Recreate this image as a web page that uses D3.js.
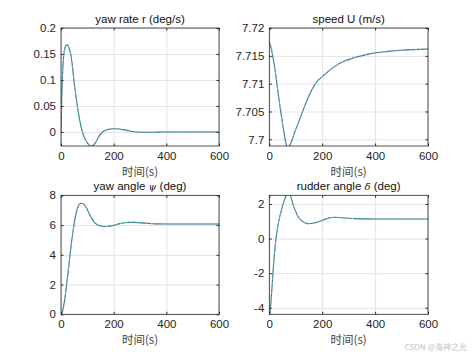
<!DOCTYPE html>
<html><head><meta charset="utf-8">
<script src="https://cdn.jsdelivr.net/npm/d3@7"></script>
<style>html,body{margin:0;padding:0;background:#fff;}svg{display:block;font-family:"Liberation Sans",Arial,sans-serif;}</style>
</head><body>
<script>
// ---- data ----
const rT = [0,3,6,10,15,20,25,30,37,43,49,55,62,70,78,84,92,100,108,115,122,130,138,146,155,162,170,180,190,200,210,220,235,250,265,280,300,330,370,420,600];
const rV = [0,0.07,0.115,0.145,0.162,0.167,0.167,0.162,0.150,0.128,0.100,0.076,0.050,0.025,0.006,-0.004,-0.014,-0.021,-0.026,-0.0275,-0.026,-0.021,-0.014,-0.007,-0.001,0.0015,0.0035,0.005,0.0058,0.0062,0.0062,0.0058,0.0045,0.003,0.0014,0.0003,-0.0005,-0.0006,-0.0003,0,0];
const uT = [0,5,20,36,53,62,70,78,86,97,110,122,135,147,163,179,204,225,248,286,324,382,450,500,600];
const uV = [7.7174,7.7168,7.7130,7.7074,7.7020,7.6995,7.6985,7.6990,7.6999,7.7014,7.7030,7.7045,7.7061,7.7075,7.7091,7.7103,7.7114,7.7123,7.7131,7.7141,7.7147,7.7154,7.7158,7.7160,7.7162];
const pT = [0,5,10,15,20,25,30,35,40,45,50,55,60,65,70,78,85,95,105,115,125,135,148,165,180,200,220,240,260,280,300,330,360,400,600];
const pV = [0,0.15,0.55,1.1,1.8,2.55,3.3,4.1,4.85,5.5,6.1,6.6,6.98,7.25,7.4,7.47,7.42,7.2,6.85,6.5,6.22,6.05,5.95,5.9,5.92,5.98,6.08,6.15,6.18,6.18,6.15,6.11,6.08,6.07,6.07];
const dT = [0,2.6,9,17.8,25.3,34,44,56.7,63,70,78,90.8,109.6,128.5,147.4,166,191.7,217,248,286,324,400,600];
const dV = [-4.38,-4.27,-3.1,-1.17,0,0.86,1.54,2.21,2.45,2.58,2.52,1.92,1.25,0.96,0.86,0.88,1.0,1.15,1.23,1.19,1.15,1.13,1.13];
const xTicks = [0,200,400,600];
const rTicks = [0,0.05,0.1,0.15,0.2];
const uTicks = [7.7,7.705,7.71,7.715,7.72];
const pTicks = [0,2,4,6,8];
const dTicks = [-4,-2,0,2];
const xLabel = "时间(s)";

const W=474,H=355;
const svg=d3.select("body").append("svg").attr("width",W).attr("height",H);

const panels=[
 {x0:61,x1:219,y0:28,y1:146,dom:[-0.027,0.2],T:rT,V:rV,ticks:rTicks,fmt:d=>String(d),title:[["yaw rate r (deg/s)",false]]},
 {x0:269.3,x1:428,y0:28,y1:146,dom:[7.6988,7.72],T:uT,V:uV,ticks:uTicks,fmt:d=>String(+d.toFixed(3)),title:[["speed U (m/s)",false]]},
 {x0:61,x1:219,y0:195.3,y1:314.3,dom:[0,8],T:pT,V:pV,ticks:pTicks,fmt:d=>String(d),title:[["yaw angle ",false],["ψ",true],[" (deg)",false]]},
 {x0:269.3,x1:428,y0:195.3,y1:314.3,dom:[-4.38,2.5],T:dT,V:dV,ticks:dTicks,fmt:d=>String(d),title:[["rudder angle ",false],["δ",true],[" (deg)",false]]}
];

panels.forEach((p,i)=>{
  const x=d3.scaleLinear().domain([0,600]).range([p.x0,p.x1]);
  const y=d3.scaleLinear().domain(p.dom).range([p.y1,p.y0]);
  const g=svg.append("g");
  const cid="clip"+i;
  svg.append("clipPath").attr("id",cid).append("rect")
    .attr("x",p.x0).attr("y",p.y0).attr("width",p.x1-p.x0).attr("height",p.y1-p.y0);
  g.append("rect").attr("x",p.x0).attr("y",p.y0).attr("width",p.x1-p.x0).attr("height",p.y1-p.y0).attr("fill","#fff");
  // grid
  g.append("g").call(d3.axisBottom(x).tickValues(xTicks).tickSize(-(p.y1-p.y0)).tickFormat(""))
    .attr("transform",`translate(0,${p.y1})`).call(s=>{s.select(".domain").remove();s.selectAll("line").attr("stroke","#e3e3e3");});
  g.append("g").call(d3.axisLeft(y).tickValues(p.ticks).tickSize(-(p.x1-p.x0)).tickFormat(""))
    .attr("transform",`translate(${p.x0},0)`).call(s=>{s.select(".domain").remove();s.selectAll("line").attr("stroke","#e3e3e3");});
  // lines
  const data=p.T.map((t,k)=>[t,p.V[k]]);
  const line=d3.line().x(d=>x(d[0])).y(d=>y(d[1])).curve(d3.curveMonotoneX);
  g.append("path").datum(data).attr("d",line).attr("clip-path",`url(#${cid})`)
    .attr("fill","none").attr("stroke","#45697a").attr("stroke-width",1.1);
  g.append("path").datum(data).attr("d",line).attr("clip-path",`url(#${cid})`)
    .attr("fill","none").attr("stroke","#5cc2cc").attr("stroke-width",0.9).attr("stroke-dasharray","3,2");
  // axes (box with inward ticks)
  const tl=2.5;
  const ax=g.append("g");
  ax.append("g").attr("transform",`translate(0,${p.y1})`)
    .call(d3.axisBottom(x).tickValues(xTicks).tickSizeInner(-tl).tickSizeOuter(0).tickPadding(6).tickFormat(d=>String(d)))
    .call(s=>{s.select(".domain").remove();s.selectAll("line").attr("stroke","#262626");s.selectAll("text").attr("font-size",11.5).attr("fill","#262626").attr("font-family",'"Liberation Sans",Arial,sans-serif');});
  ax.append("g").attr("transform",`translate(0,${p.y0})`)
    .call(d3.axisTop(x).tickValues(xTicks).tickSizeInner(-tl).tickSizeOuter(0).tickFormat(""))
    .call(s=>{s.select(".domain").remove();s.selectAll("line").attr("stroke","#262626");});
  ax.append("g").attr("transform",`translate(${p.x0},0)`)
    .call(d3.axisLeft(y).tickValues(p.ticks).tickSizeInner(-tl).tickSizeOuter(0).tickPadding(5).tickFormat(p.fmt))
    .call(s=>{s.select(".domain").remove();s.selectAll("line").attr("stroke","#262626");s.selectAll("text").attr("font-size",11.5).attr("fill","#262626").attr("font-family",'"Liberation Sans",Arial,sans-serif');});
  ax.append("g").attr("transform",`translate(${p.x1},0)`)
    .call(d3.axisRight(y).tickValues(p.ticks).tickSizeInner(-tl).tickSizeOuter(0).tickFormat(""))
    .call(s=>{s.select(".domain").remove();s.selectAll("line").attr("stroke","#262626");});
  g.append("rect").attr("x",p.x0).attr("y",p.y0).attr("width",p.x1-p.x0).attr("height",p.y1-p.y0)
    .attr("fill","none").attr("stroke","#262626").attr("stroke-width",0.8);
  // title
  const tt=g.append("text").attr("x",(p.x0+p.x1)/2).attr("y",p.y0-5).attr("text-anchor","middle")
    .attr("font-size",11.5).attr("fill","#111");
  p.title.forEach(([s,it])=>{const ts=tt.append("tspan").text(s); if(it){ts.attr("font-style","italic").attr("font-family",'"DejaVu Serif",serif').attr("font-size",10);} });
  // x label
  g.append("text").attr("x",(p.x0+p.x1)/2).attr("y",p.y1+30).attr("text-anchor","middle")
    .attr("font-size",11.5).attr("fill","#444").attr("font-family",'"Noto Sans CJK SC","Liberation Sans",sans-serif').text(xLabel);
});
// watermark
svg.append("text").attr("x",467).attr("y",350).attr("text-anchor","end").attr("font-size",8)
  .attr("fill","#c4c4c4").attr("font-family",'"Noto Sans CJK SC",sans-serif').text("CSDN @海神之光");
</script>
</body></html>
